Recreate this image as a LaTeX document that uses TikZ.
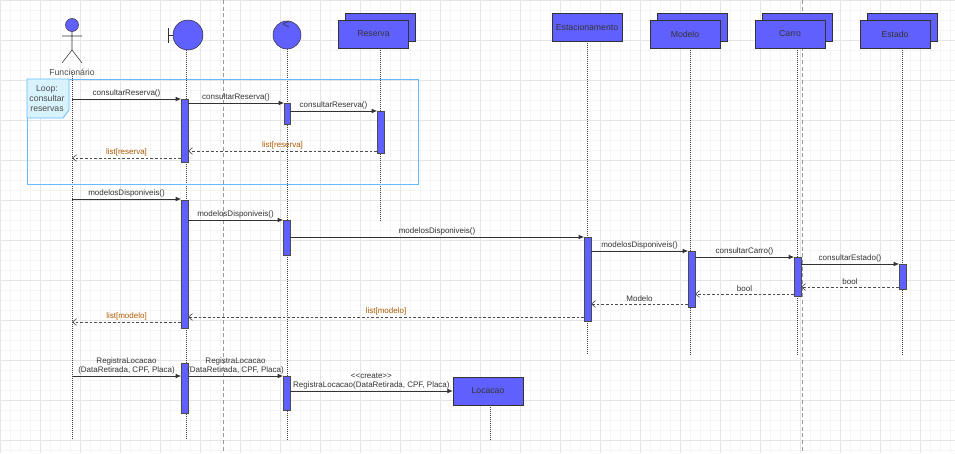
\documentclass[tikz,border=0pt]{standalone}
\usepackage{fontspec}
\setmainfont{Liberation Sans}
\usetikzlibrary{arrows.meta}
\definecolor{fill}{HTML}{6060FF}
\definecolor{lbl}{HTML}{333333}
\definecolor{ret}{HTML}{B05A00}
\tikzset{
 obj/.style={draw=black!80,fill=fill,minimum width=52.5pt,minimum height=21pt,font=\fontsize{6.5}{7}\selectfont,text=black!80,inner sep=0},
 act/.style={draw=black!70,fill=fill,line width=0.4pt},
 life/.style={densely dotted,black!75,line width=0.5pt},
 msg/.style={-{Latex[length=4pt,width=3.5pt]},black!80,line width=0.5pt},
 rmsg/.style={-{Straight Barb[length=3pt,width=5pt]},black!70,dashed,dash pattern=on 2pt off 1.5pt,line width=0.5pt},
 ml/.style={font=\fontsize{6}{6.5}\selectfont,text=lbl,above,inner sep=1.5pt,align=center},
}
\begin{document}
\begin{tikzpicture}[x=0.75pt,y=-0.75pt]
\useasboundingbox (0,0) rectangle (955,453);
\fill[white] (0,0) rectangle (955,453);
\draw[black!4,step=7.5pt] (0,0) grid (955,453);
\draw[black!10,step=30pt] (0,0) grid (955,453);
\draw[black!40,dashed,dash pattern=on 3pt off 2pt] (223,0) -- (223,453) (802,0) -- (802,453);
% lifelines
\draw[life] (72,72) -- (72,440);
\draw[life] (186,50) -- (186,440);
\draw[life] (287,49) -- (287,440);
\draw[life] (380,48) -- (380,222);
\draw[life] (587,41) -- (587,355);
\draw[life] (690,48) -- (690,355);
\draw[life] (797,48) -- (797,355);
\draw[life] (902,48) -- (902,355);
\draw[life] (490,405) -- (490,440);
% actor
\node[circle,draw=black!80,fill=fill,minimum size=9.75pt,inner sep=0] (act) at (72,25) {};
\draw[black!80] (act.south) -- (72,50) (62,36) -- (82,36) (62,63) -- (72,50) -- (82,63);
\node[font=\fontsize{6.5}{7}\selectfont,text=black!70] (fun) at (72,72) {Funcionário};
% boundary
\node[circle,draw=black!80,fill=fill,minimum size=22.5pt,inner sep=0] (bnd) at (188,35) {};
\draw[black!80] (168,28) -- (168,43) (168,35) -- (bnd.west);
% control
\node[circle,draw=black!80,fill=fill,minimum size=21pt,inner sep=0] (ctl) at (287,35) {};
\draw[black!80] (283,24) -- (289,21) (283,24) -- (289,27);
% objects
\node[obj] (resb) at (380.5,27) {};
\node[obj] (res) at (373.5,34) {Reserva};
\node[obj] (est) at (587,27) {Estacionamento};
\node[obj] (modb) at (692,27) {};
\node[obj] (mod) at (685,34) {Modelo};
\node[obj] (carb) at (797,27) {};
\node[obj] (car) at (790,34) {Carro};
\node[obj] (esb) at (902,27) {};
\node[obj] (es) at (895,34) {Estado};
\node[obj] (loc) at (488,391) {Locacao};
% loop frame
\draw[draw=blue!45!cyan!60,line width=0.6pt] (27,79) rectangle (418,184);
\draw[draw=blue!45!cyan!60,fill=cyan!15,line width=0.6pt] (27,79) -- (69,79) -- (69,110) -- (63,118) -- (27,118) -- cycle;
\node[font=\fontsize{6.5}{7.5}\selectfont,text=black!70,align=center] (loop) at (47,98.5) {Loop:\\consultar\\reservas};
% activations
\draw[act] (181,99) rectangle (188,162);
\draw[act] (284,103) rectangle (290,124);
\draw[act] (377,111) rectangle (384,153);
\draw[act] (181,200) rectangle (188,328);
\draw[act] (283,220) rectangle (290,255);
\draw[act] (584,237) rectangle (591,321);
\draw[act] (688,251) rectangle (695,307);
\draw[act] (794,257) rectangle (801,296);
\draw[act] (899,264) rectangle (906,289);
\draw[act] (181,363) rectangle (188,413);
\draw[act] (283,376) rectangle (290,410);
% message endpoints
\foreach \n/\x/\y in {a1/72/99,b1/181/99, a2/188/103,b2/284/103, a3/290/111,b3/377/111,
 a4/377/151,b4/188/151, a5/181/158,b5/72/158,
 a6/72/199,b6/181/199, a7/188/220,b7/283/220, a8/290/237,b8/584/237,
 a9/591/251,b9/688/251, a10/695/257,b10/794/257, a11/801/264,b11/899/264,
 a12/899/287,b12/801/287, a13/794/294,b13/695/294, a14/688/304,b14/591/304,
 a15/584/317,b15/188/317, a16/181/322,b16/72/322,
 a17/72/376,b17/181/376, a18/188/376,b18/283/376, a19/290/391}
 {\coordinate (\n) at (\x,\y);}
\draw[msg] (a1) -- node[ml]{consultarReserva()} (b1);
\draw[msg] (a2) -- node[ml]{consultarReserva()} (b2);
\draw[msg] (a3) -- node[ml]{consultarReserva()} (b3);
\draw[rmsg] (a4) -- node[ml,text=ret]{list[reserva]} (b4);
\draw[rmsg] (a5) -- node[ml,text=ret]{list[reserva]} (b5);
\draw[msg] (a6) -- node[ml]{modelosDisponiveis()} (b6);
\draw[msg] (a7) -- node[ml]{modelosDisponiveis()} (b7);
\draw[msg] (a8) -- node[ml]{modelosDisponiveis()} (b8);
\draw[msg] (a9) -- node[ml]{modelosDisponiveis()} (b9);
\draw[msg] (a10) -- node[ml]{consultarCarro()} (b10);
\draw[msg] (a11) -- node[ml]{consultarEstado()} (b11);
\draw[rmsg] (a12) -- node[ml]{bool} (b12);
\draw[rmsg] (a13) -- node[ml]{bool} (b13);
\draw[rmsg] (a14) -- node[ml]{Modelo} (b14);
\draw[rmsg] (a15) -- node[ml,text=ret]{list[modelo]} (b15);
\draw[rmsg] (a16) -- node[ml,text=ret]{list[modelo]} (b16);
\draw[msg] (a17) -- node[ml]{RegistraLocacao\\(DataRetirada, CPF, Placa)} (b17);
\draw[msg] (a18) -- node[ml]{RegistraLocacao\\(DataRetirada, CPF, Placa)} (b18);
\draw[msg] (a19) -- node[ml]{<{}<create>{}>\\RegistraLocacao(DataRetirada, CPF, Placa)} (loc.west);
\end{tikzpicture}
\end{document}
